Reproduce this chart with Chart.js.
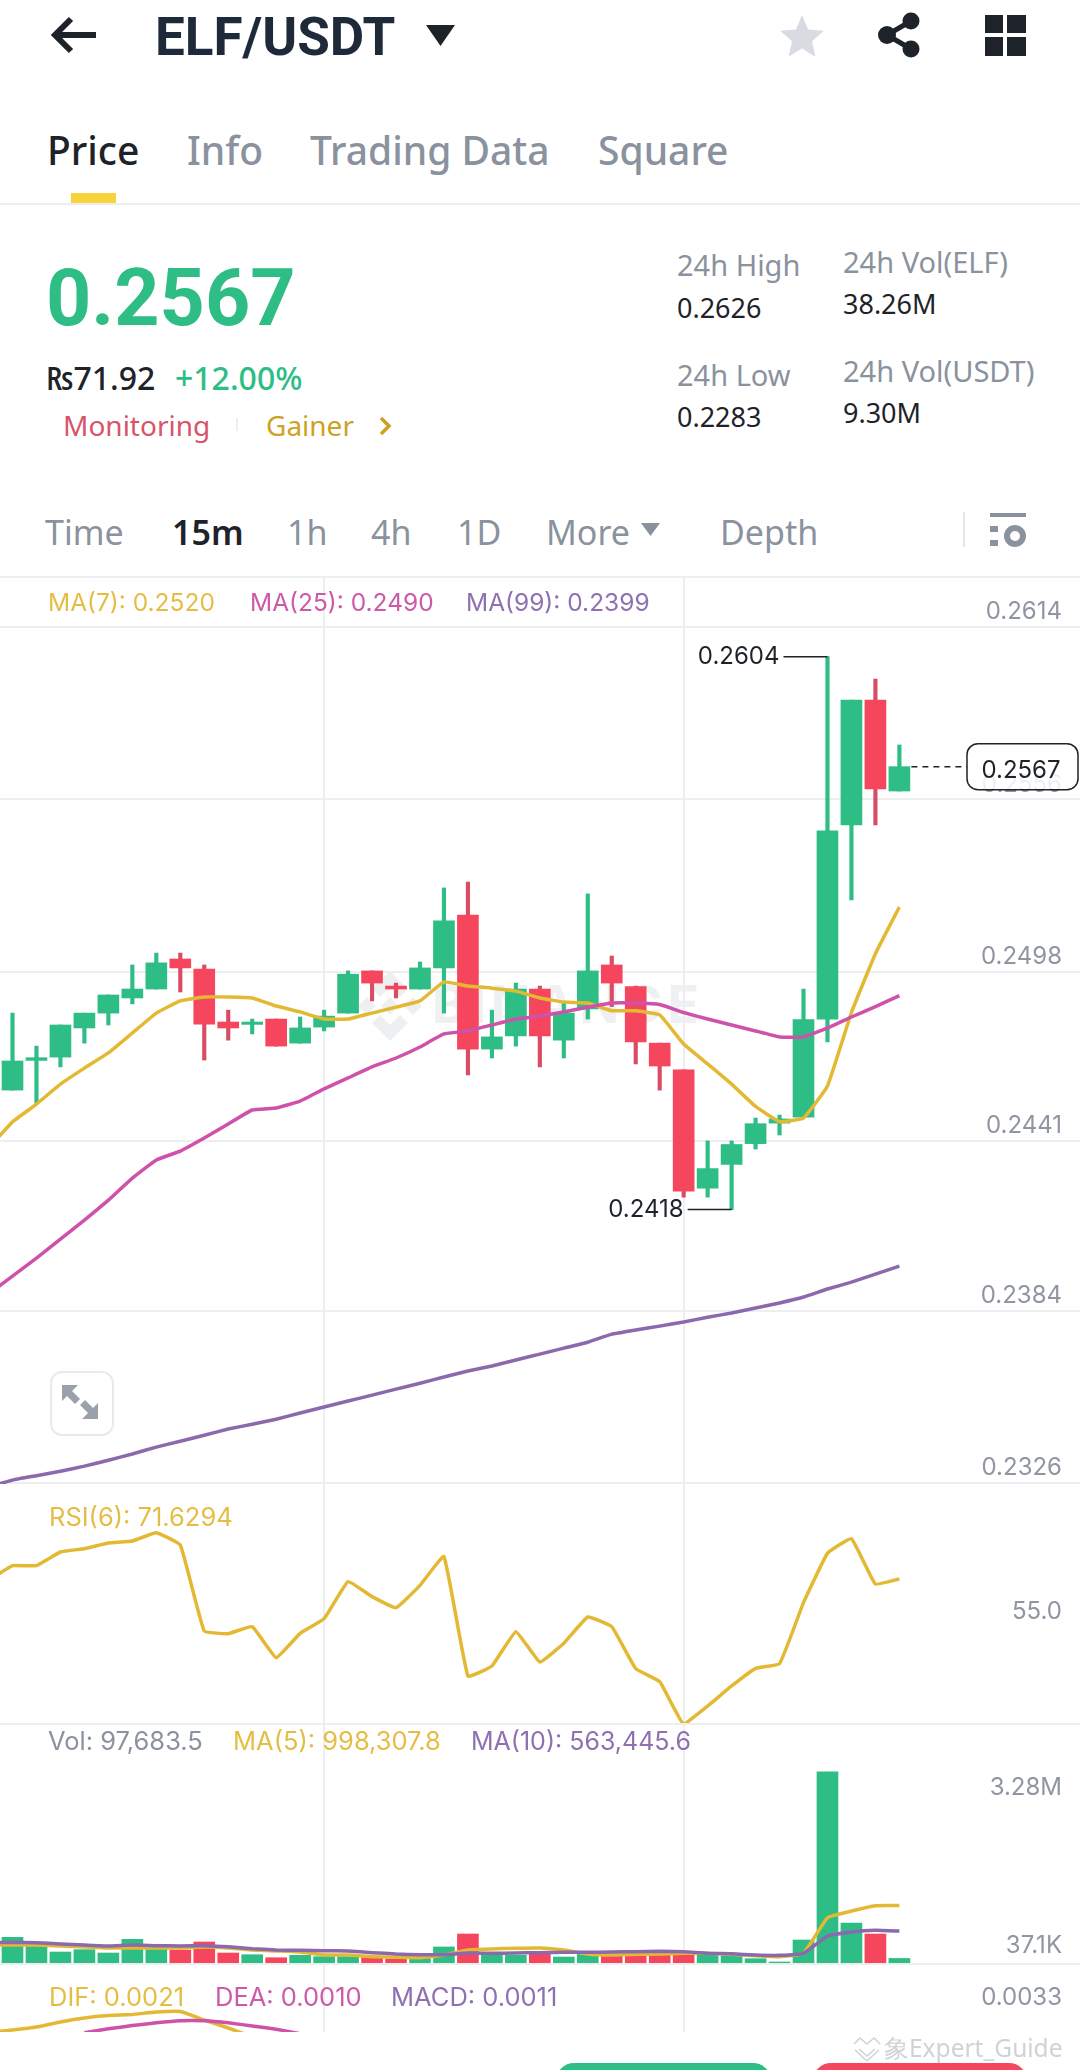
<!DOCTYPE html>
<html>
<head>
<meta charset="utf-8">
<script src="https://cdn.jsdelivr.net/npm/chart.js@4/dist/chart.umd.min.js"></script>
<style>
  html, body { margin: 0; padding: 0; background: #fff; }
  body { position: relative; width: 1080px; height: 2070px; overflow: hidden; font-family: 'Noto Sans', sans-serif; color: #1e2329; }
  canvas { position: absolute; left: 0; }
  .t { position: absolute; white-space: nowrap; transform: translateY(-50%); line-height: 1; }
  .rule { position: absolute; left: 0; width: 1080px; height: 2px; background: #eceef0; }
  .gray { color: #8a929e; }
  svg { position: absolute; }
  .ma7 { color: #e5bd45; } .ma25 { color: #cc5aa8; } .ma99 { color: #8f70b0; }
  .leg { font-family: 'Inter', sans-serif; font-size: 25.5px; }
</style>
</head>
<body>
  <!-- top bar -->
  <svg style="left:50px;top:16px" width="48" height="38" viewBox="0 0 48 38"><path d="M21 3 L5 19 L21 35 M5 19 H46" fill="none" stroke="#1e2329" stroke-width="6"/></svg>
  <span class="t" style="left:155px;top:37px;font-family:Roboto;font-size:53px;font-weight:700;color:#1e2a3a">ELF/USDT</span>
  <svg style="left:426px;top:25px" width="30" height="22"><path d="M0 0 H29 L14.5 21 Z" fill="#1e2329"/></svg>
  <svg style="left:779px;top:13px" width="46" height="46" viewBox="0 0 24 24"><path d="M12 1 L15.2 8.6 L23.4 9.3 L17.2 14.7 L19 22.8 L12 18.5 L5 22.8 L6.8 14.7 L.6 9.3 L8.8 8.6 Z" fill="#d8dbe2"/></svg>
  <svg style="left:875px;top:11px" width="48" height="48" viewBox="0 0 48 48"><path d="M36 10 L12 24 L36 38" fill="none" stroke="#1e2329" stroke-width="5"/><circle cx="36" cy="10" r="8.5" fill="#1e2329"/><circle cx="12" cy="24" r="9" fill="#1e2329"/><circle cx="36" cy="38" r="8.5" fill="#1e2329"/></svg>
  <svg style="left:985px;top:15px" width="41" height="41"><rect width="18" height="18" fill="#1e2329"/><rect x="22" width="19" height="18" fill="#1e2329"/><rect y="22" width="18" height="19" fill="#1e2329"/><rect x="22" y="22" width="19" height="19" fill="#1e2329"/></svg>

  <!-- tabs -->
  <span class="t" style="left:47px;top:149px;font-size:39px;font-weight:500">Price</span>
  <span class="t gray" style="left:187px;top:149px;font-size:39px;font-weight:500">Info</span>
  <span class="t gray" style="left:310px;top:149px;font-size:39px;font-weight:500">Trading Data</span>
  <span class="t gray" style="left:598px;top:149px;font-size:39px;font-weight:500">Square</span>
  <div style="position:absolute;left:71px;top:193px;width:45px;height:10px;background:#f8d33a"></div>
  <div class="rule" style="top:203px"></div>

  <!-- price block -->
  <span class="t" style="left:46px;top:298px;font-family:Roboto;font-size:79px;font-weight:700;color:#2ebd85">0.2567</span>
  <span class="t" style="left:46px;top:378px;font-size:32px;font-weight:500">₨71.92</span>
  <span class="t" style="left:175px;top:378px;font-size:32px;font-weight:500;color:#2ebd85">+12.00%</span>
  <span class="t" style="left:63px;top:425px;font-size:28px;color:#d9536a">Monitoring</span>
  <div style="position:absolute;left:236px;top:418px;width:2px;height:13px;background:#eceef0"></div>
  <span class="t" style="left:266px;top:425px;font-size:28px;color:#cda21f">Gainer</span>
  <svg style="left:378px;top:416px" width="14" height="20"><path d="M3 2 L11 10 L3 18" fill="none" stroke="#cda21f" stroke-width="3.5"/></svg>

  <span class="t gray" style="left:677px;top:264px;font-size:29px">24h High</span>
  <span class="t" style="left:677px;top:307px;font-size:27px">0.2626</span>
  <span class="t gray" style="left:843px;top:261px;font-size:29px">24h Vol(ELF)</span>
  <span class="t" style="left:843px;top:303px;font-size:27px">38.26M</span>
  <span class="t gray" style="left:677px;top:374px;font-size:29px">24h Low</span>
  <span class="t" style="left:677px;top:416px;font-size:27px">0.2283</span>
  <span class="t gray" style="left:843px;top:370px;font-size:29px">24h Vol(USDT)</span>
  <span class="t" style="left:843px;top:412px;font-size:27px">9.30M</span>

  <!-- interval row -->
  <span class="t gray" style="left:45px;top:532px;font-size:34px">Time</span>
  <span class="t" style="left:172px;top:532px;font-size:34px;font-weight:600">15m</span>
  <span class="t gray" style="left:287px;top:532px;font-size:34px">1h</span>
  <span class="t gray" style="left:371px;top:532px;font-size:34px">4h</span>
  <span class="t gray" style="left:457px;top:532px;font-size:34px">1D</span>
  <span class="t gray" style="left:546px;top:532px;font-size:34px">More</span>
  <svg style="left:641px;top:523px" width="20" height="14"><path d="M0 0 H19 L9.5 13 Z" fill="#8a929e"/></svg>
  <span class="t gray" style="left:720px;top:532px;font-size:34px">Depth</span>
  <div style="position:absolute;left:963px;top:512px;width:2px;height:35px;background:#e4e6ea"></div>
  <svg style="left:990px;top:513px" width="37" height="36"><rect width="36" height="4" fill="#8a929e"/><rect y="13" width="8" height="6" fill="#8a929e"/><rect y="27" width="8" height="6" fill="#8a929e"/><circle cx="25" cy="23" r="8" fill="none" stroke="#8a929e" stroke-width="6"/></svg>
  <div class="rule" style="top:576px"></div>

  <!-- faint exchange watermark, sits under the transparent price canvas -->
  <svg style="left:350px;top:966px" width="80" height="80" viewBox="0 0 80 80"><path d="M40 5 L58 23 L50 31 L40 21 L30 31 L22 23 Z M40 75 L22 57 L30 49 L40 59 L50 49 L58 57 Z M8 40 L17 31 L26 40 L17 49 Z M54 40 L63 31 L72 40 L63 49 Z M40 31 L49 40 L40 49 L31 40 Z" fill="#eeeff1"/></svg>
  <span class="t" style="left:432px;top:1005px;font-family:Inter;font-size:52px;font-weight:700;color:#eff0f2;letter-spacing:5px">BINANCE</span>

  <canvas id="priceChart" style="top:577px" width="1080" height="907"></canvas>
  <canvas id="rsiChart" style="top:1484px" width="1080" height="240"></canvas>
  <canvas id="volChart" style="top:1724px" width="1080" height="240"></canvas>
  <canvas id="macdChart" style="top:1964px" width="1080" height="68"></canvas>
  <div class="rule" style="top:1723px"></div>
  <div class="rule" style="top:1963px"></div>

  <span class="t leg ma7" style="left:48px;top:602px;font-size:24.5px">MA(7): 0.2520</span>
  <span class="t leg ma25" style="left:250px;top:602px;font-size:24.5px">MA(25): 0.2490</span>
  <span class="t leg ma99" style="left:466px;top:602px;font-size:24.5px">MA(99): 0.2399</span>

  <span class="t leg ma7" style="left:49px;top:1517px">RSI(6): 71.6294</span>

  <span class="t leg gray" style="left:48px;top:1741px">Vol: 97,683.5</span>
  <span class="t leg ma7" style="left:233px;top:1741px">MA(5): 998,307.8</span>
  <span class="t leg ma99" style="left:471px;top:1741px;font-size:25px">MA(10): 563,445.6</span>

  <span class="t leg ma7" style="left:49px;top:1997px">DIF: 0.0021</span>
  <span class="t leg ma25" style="left:215px;top:1997px">DEA: 0.0010</span>
  <span class="t leg ma99" style="left:391px;top:1997px">MACD: 0.0011</span>

  <!-- expand button -->
  <div style="position:absolute;left:50px;top:1371px;width:60px;height:61px;border:2px solid #e8eaed;border-radius:12px;background:#fff"></div>
  <svg style="left:60px;top:1383px" width="40" height="38" viewBox="0 0 40 38"><path d="M2 2 H18 L12 8 L20 16 L15 21 L7 13 L2 18 Z M38 36 H22 L28 30 L20 22 L25 17 L33 25 L38 20 Z" fill="#9aa1ab"/></svg>

  <!-- bottom strip -->
  <svg style="left:853px;top:2036px" width="28" height="26"><path d="M1 8 L7 2 L14 8 L21 2 L27 8 M6 13 L14 20 L22 13 M14 25 L2 14 M14 25 L26 14" fill="none" stroke="#cfd2d6" stroke-width="1.5"/></svg>
  <span class="t" style="left:884px;top:2048px;font-size:24.5px;color:#cfd2d6">象Expert_Guide</span>
  <div style="position:absolute;left:556px;top:2063px;width:215px;height:20px;border-radius:18px 18px 0 0;background:#2ebd85"></div>
  <div style="position:absolute;left:813px;top:2063px;width:214px;height:20px;border-radius:18px 18px 0 0;background:#f6465d"></div>

<script>
const openVals = [0.24582,0.24682,0.24693,0.24791,0.24841,0.24892,0.24922,0.25023,0.24989,0.24811,0.24803,0.24821,0.24740,0.24794,0.24841,0.24983,0.24932,0.24922,0.24993,0.25171,0.24720,0.24764,0.24922,0.24750,0.24855,0.25003,0.24930,0.24740,0.24650,0.24252,0.24332,0.24402,0.24471,0.24491,0.24821,0.25474,0.25894,0.25588];
const highVals = [0.24841,0.24730,0.24801,0.24841,0.24902,0.25003,0.25043,0.25043,0.25003,0.24851,0.24821,0.24821,0.24828,0.24851,0.24983,0.24983,0.24942,0.25013,0.25262,0.25282,0.24851,0.24942,0.24932,0.24875,0.25242,0.25033,0.24932,0.24740,0.24650,0.24411,0.24411,0.24488,0.24498,0.24922,0.2604,0.25894,0.25965,0.25743];
const lowVals = [0.24582,0.24538,0.24660,0.24740,0.24801,0.24872,0.24922,0.24912,0.24683,0.24750,0.24771,0.24730,0.24740,0.24781,0.24841,0.24882,0.24892,0.24922,0.24841,0.24633,0.24690,0.24730,0.24660,0.24690,0.24821,0.24863,0.24670,0.24582,0.24222,0.24222,0.2418,0.24384,0.24431,0.24491,0.24744,0.25222,0.25474,0.25588];
const closeVals = [0.24680,0.24691,0.24801,0.24841,0.24902,0.24922,0.25010,0.24993,0.24804,0.24791,0.24811,0.24730,0.24791,0.24831,0.24972,0.24942,0.24922,0.24993,0.25151,0.24720,0.24761,0.24922,0.24764,0.24841,0.24983,0.24942,0.24744,0.24663,0.24242,0.24318,0.24399,0.24469,0.24485,0.24819,0.25454,0.25894,0.25595,0.2567];

// the line series start one candle left of the screen edge
const ma7Vals = [0.24387,0.24475,0.24535,0.24602,0.24656,0.24707,0.24774,0.24841,0.24882,0.24895,0.24895,0.24892,0.24865,0.24845,0.24821,0.24821,0.24841,0.24861,0.24882,0.24946,0.24932,0.24925,0.24915,0.24892,0.24878,0.24875,0.24849,0.24849,0.24835,0.24737,0.24670,0.24602,0.24527,0.24476,0.24488,0.24596,0.24843,0.25041,0.25198];
const ma25Vals = [0.23896,0.23956,0.24017,0.24081,0.24145,0.24212,0.24286,0.24347,0.24377,0.24421,0.24468,0.24515,0.24522,0.24545,0.24586,0.24623,0.24660,0.24690,0.24727,0.24771,0.24781,0.24801,0.24821,0.24831,0.24845,0.24861,0.24875,0.24875,0.24870,0.24843,0.24821,0.24801,0.24781,0.24761,0.24761,0.24791,0.24828,0.24863,0.24900];
const ma99Vals = [0.23247,0.23270,0.23285,0.23300,0.23317,0.23337,0.23358,0.23381,0.23401,0.23421,0.23442,0.23458,0.23475,0.23496,0.23516,0.23536,0.23556,0.23576,0.23596,0.23617,0.23637,0.23654,0.23674,0.23694,0.23714,0.23734,0.23761,0.23775,0.23788,0.23802,0.23818,0.23832,0.23849,0.23866,0.23886,0.23913,0.23936,0.23963,0.23990];
const rsiVals = [71.08,76.32,76.32,81.15,82.33,84.33,85.04,87.98,83.62,53.23,52.29,54.77,43.81,52.41,57.59,70.67,65.37,61.48,69.37,79.50,37.33,40.87,53.00,42.28,48.88,58.18,54.77,39.92,35.33,20.25,26.73,33.80,40.04,41.69,63.25,80.68,85.86,69.84,71.63];

const volVals = [458000,310000,207000,247000,190000,424000,276000,241000,378000,190000,161000,110000,151000,127000,127000,110000,88000,127000,293000,514000,168000,151000,213000,122000,168000,156000,156000,156000,173000,173000,144000,93300,37100,412000,3280000,702000,514000,97683.5];
const volMa5Vals = [327000,327000,327000,310000,293000,276000,276000,276000,276000,293000,276000,242000,225000,208000,156000,156000,127000,117000,110000,156000,242000,259000,271000,276000,242000,173000,156000,168000,173000,185000,185000,168000,144000,127000,185000,792000,906000,996000,998307.8];
const volMa10Vals = [369000,373000,366000,344000,327000,310000,327000,315000,310000,315000,298000,264000,242000,236000,230000,225000,196000,173000,161000,161000,190000,185000,190000,196000,202000,202000,208000,213000,219000,213000,185000,178000,156000,151000,185000,480000,548000,577000,563445.6];

// only the top of the MACD pane is on screen
const difVals = [0.00279,0.00285,0.002925,0.00305,0.00315,0.00321,0.00324,0.0033,0.00331,0.0031,0.0029,0.00268];
const deaVals = [0.00278,0.00288,0.00296,0.00303,0.00308,0.00308,0.00303,0.00295,0.00287,0.00276];
const deaStart = 3;

const priceTicks = [0.2614, 0.2556, 0.2498, 0.2441, 0.2384, 0.2326];
const rsiTicks = [55];
const volTicks = [37100, 3280000];
const macdTicks = [0.0033];
const gridCandles = [13, 28];
const highMark = 0.2604;
const lowMark = 0.2418;
const lastPrice = 0.2567;

const GREEN = '#2ebd85';
const RED = '#f6465d';
const WICK_RED = '#d94c63';
const GOLD = '#e3b934';
const PINK = '#cf52aa';
const PURPLE = '#8a69ad';
const GRID = '#eceef0';
const LABEL = '#8f96a1';
const INK = '#1e2329';

Chart.defaults.font.family = "'Inter', sans-serif";
Chart.defaults.animation = false;

const isUp = openVals.map((o, i) => closeVals[i] >= o);
const candleColors = isUp.map(up => up ? GREEN : RED);

function lineSet(vals, color, order, start) {
  const first = start === undefined ? -1 : start;
  return {
    type: 'line',
    data: vals.map((v, i) => ({ x: i + first, y: v })),
    borderColor: color,
    borderWidth: 3.5,
    pointRadius: 0,
    tension: 0.1,
    order: order
  };
}

function xScale() {
  return {
    type: 'linear',
    min: -0.5215,
    max: 44.535,
    offset: false,
    border: { display: false },
    grid: { color: GRID, lineWidth: 2, drawTicks: false, offset: false },
    ticks: { display: false },
    afterBuildTicks: function (scale) {
      scale.ticks = gridCandles.map(v => ({ value: v }));
    }
  };
}

// labels sit off the gridline, an empty extra line moves them up or down
function yScale(min, max, tickVals, showGrid, format, shift) {
  return {
    position: 'right',
    min: min,
    max: max,
    border: { display: false },
    grid: { display: showGrid, color: GRID, lineWidth: 2, drawTicks: false },
    ticks: {
      mirror: true,
      padding: -18,
      color: LABEL,
      font: { size: 24, lineHeight: shift + 'px' },
      autoSkip: false,
      maxRotation: 0,
      callback: format
    },
    afterBuildTicks: function (scale) {
      scale.ticks = tickVals.map(v => ({ value: v }));
    },
    // the plot has to fill the canvas, so no room for the label height
    afterFit: function (scale) {
      scale.paddingTop = 0;
      scale.paddingBottom = 0;
    }
  };
}

const chartDefaults = {
  responsive: false,
  layout: { padding: 0 },
  plugins: { legend: { display: false }, tooltip: { enabled: false } }
};

const priceMarks = {
  id: 'priceMarks',
  afterDraw: function (chart) {
    const ctx = chart.ctx;
    const x = chart.scales.x;
    const y = chart.scales.y;
    ctx.save();
    ctx.font = "24px 'Inter', sans-serif";
    ctx.textBaseline = 'middle';
    ctx.fillStyle = INK;
    ctx.strokeStyle = INK;
    ctx.lineWidth = 1.5;

    const hiX = x.getPixelForValue(highVals.indexOf(highMark));
    const hiY = y.getPixelForValue(highMark);
    ctx.textAlign = 'right';
    ctx.fillText(highMark.toFixed(4), hiX - 48, hiY);
    ctx.beginPath();
    ctx.moveTo(hiX - 44, hiY);
    ctx.lineTo(hiX, hiY);
    ctx.stroke();

    const loX = x.getPixelForValue(lowVals.indexOf(lowMark));
    const loY = y.getPixelForValue(lowMark);
    ctx.fillText(lowMark.toFixed(4), loX - 48, loY);
    ctx.beginPath();
    ctx.moveTo(loX - 44, loY);
    ctx.lineTo(loX, loY);
    ctx.stroke();

    // last price dashes and tag
    const lastX = x.getPixelForValue(closeVals.length - 1) + 12;
    const lastY = y.getPixelForValue(lastPrice);
    ctx.setLineDash([6, 5]);
    ctx.beginPath();
    ctx.moveTo(lastX, lastY);
    ctx.lineTo(967, lastY);
    ctx.stroke();
    ctx.setLineDash([]);
    ctx.beginPath();
    ctx.roundRect(967, lastY - 23, 111, 46, 11);
    ctx.fillStyle = 'rgba(255,255,255,0.85)';
    ctx.fill();
    ctx.stroke();
    ctx.fillStyle = INK;
    ctx.textAlign = 'center';
    ctx.fillText(lastPrice.toFixed(4), 1021, lastY + 4);
    ctx.restore();
  }
};

new Chart(document.getElementById('priceChart'), {
  type: 'bar',
  data: {
    datasets: [
      lineSet(ma99Vals, PURPLE, 1),
      lineSet(ma25Vals, PINK, 1),
      lineSet(ma7Vals, GOLD, 1),
      {
        data: openVals.map((o, i) => ({ x: i, y: [o, closeVals[i]] })),
        backgroundColor: candleColors,
        barThickness: 21,
        grouped: false,
        order: 2
      },
      {
        data: lowVals.map((l, i) => ({ x: i, y: [l, highVals[i]] })),
        backgroundColor: isUp.map(up => up ? GREEN : WICK_RED),
        barThickness: 3.5,
        grouped: false,
        order: 3
      }
    ]
  },
  options: {
    ...chartDefaults,
    scales: {
      x: xScale(),
      y: yScale(0.23257, 0.26308, priceTicks, true, v => [v.toFixed(4), ''], 30)
    }
  },
  plugins: [priceMarks]
});

new Chart(document.getElementById('rsiChart'), {
  type: 'line',
  data: { datasets: [lineSet(rsiVals, GOLD, 1)] },
  options: {
    ...chartDefaults,
    scales: {
      x: xScale(),
      y: yScale(20.37, 105.18, rsiTicks, false, v => [v.toFixed(1), ''], 28)
    }
  }
});

function volLabel(v) {
  if (v >= 1000000) return ['', (v / 1000000).toFixed(2) + 'M'];
  return [(v / 1000).toFixed(1) + 'K', ''];
}

new Chart(document.getElementById('volChart'), {
  type: 'bar',
  data: {
    datasets: [
      lineSet(volMa10Vals, PURPLE, 1),
      lineSet(volMa5Vals, GOLD, 2),
      {
        data: volVals.map((v, i) => ({ x: i, y: v })),
        backgroundColor: candleColors,
        barThickness: 21,
        grouped: false,
        order: 3
      }
    ]
  },
  options: {
    ...chartDefaults,
    scales: {
      x: xScale(),
      y: yScale(3018, 4093000, volTicks, false, volLabel, 32)
    }
  }
});

new Chart(document.getElementById('macdChart'), {
  type: 'line',
  data: {
    datasets: [
      lineSet(deaVals, PINK, 1, deaStart),
      lineSet(difVals, GOLD, 2)
    ]
  },
  options: {
    ...chartDefaults,
    scales: {
      x: xScale(),
      y: yScale(0.0028, 0.0045, macdTicks, false, v => [v.toFixed(4), ''], 28)
    }
  }
});
</script>
</body>
</html>
